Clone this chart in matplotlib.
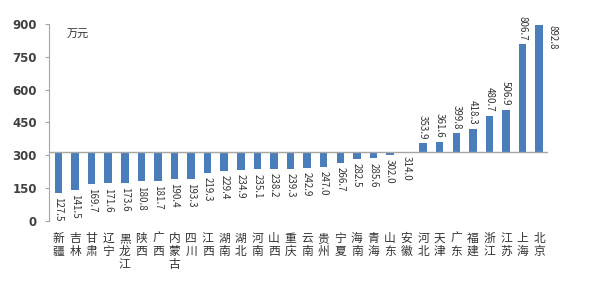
import matplotlib
matplotlib.use("Agg")
import matplotlib.pyplot as plt

plt.rcParams['font.family'] = ['Noto Sans CJK SC', 'DejaVu Sans']

provinces = ['新疆', '吉林', '甘肃', '辽宁', '黑龙江', '陕西', '广西', '内蒙古', '四川', '江西',
             '湖南', '湖北', '河南', '山西', '重庆', '云南', '贵州', '宁夏', '海南', '青海',
             '山东', '安徽', '河北', '天津', '广东', '福建', '浙江', '江苏', '上海', '北京']
values = [127.5, 141.5, 169.7, 171.6, 173.6, 180.8, 181.7, 190.4, 193.3, 219.3,
          229.4, 234.9, 235.1, 238.2, 239.3, 242.9, 247.0, 266.7, 282.5, 285.6,
          302.0, 314.0, 353.9, 361.6, 399.8, 418.3, 480.7, 506.9, 806.7, 892.8]
base = 314.0
yticks = [0, 150, 300, 450, 600, 750, 900]

fig = plt.figure(figsize=(6, 2.99), dpi=100)
ax = fig.add_axes([0.082, 0.261, 0.832, 0.659])

x = list(range(len(provinces)))
heights = [v - base for v in values]
ax.bar(x, heights, bottom=base, width=0.45, color='#4a7ebb')
ax.axhline(base, color='#a6a6a6', lw=1)

n = len(provinces)
for i, v in enumerate(values):
    lab = f'{v:.1f}'
    if i == n - 1:
        ax.annotate(lab, (i, v), xytext=(6, 0), textcoords='offset points',
                    rotation=-90, ha='left', va='top', fontsize=7, color='#333333')
    elif v >= base and i != 21:
        ax.annotate(lab, (i, v), xytext=(0, 3), textcoords='offset points',
                    rotation=-90, ha='center', va='bottom', fontsize=7, color='#333333')
    else:
        ax.annotate(lab, (i, min(v, base)), xytext=(0, -3), textcoords='offset points',
                    rotation=-90, ha='center', va='top', fontsize=7, color='#333333')

ax.set_xlim(-0.56, n - 1 + 0.56)
ax.set_ylim(0, 900)
ax.set_yticks(yticks)
ax.set_yticklabels([str(t) for t in yticks], fontsize=8.5, color='#404040', fontweight='bold',
                   family='DejaVu Sans')
ax.set_xticks(x)
ax.set_xticklabels(['\n'.join(p) for p in provinces], fontsize=8.5, color='#333333',
                   linespacing=1.0, va='top')
ax.tick_params(axis='x', length=0, pad=8)
ax.tick_params(axis='y', length=3, color='#a6a6a6', pad=6)
for s in ['top', 'right', 'bottom']:
    ax.spines[s].set_visible(False)
ax.spines['left'].set_color('#a6a6a6')

ax.text(0.035, 0.97, '万元', transform=ax.transAxes, fontsize=8, color='#333333', va='top')

fig.savefig('out.png', dpi=100, facecolor='white')
